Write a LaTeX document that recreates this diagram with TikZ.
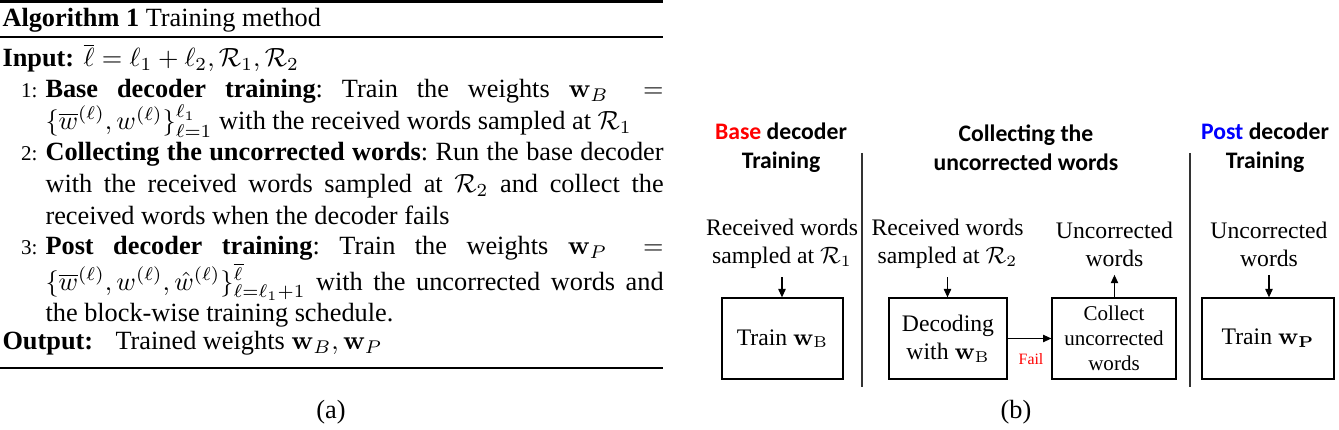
\documentclass[tikz,border=0pt]{standalone}
\usepackage{mathtools}
\usepackage{amssymb}
\usepackage{amsmath}
\usepackage[no-math]{fontspec}
\setmainfont{Liberation Serif}
\newfontfamily\hdfont{Carlito}
\usetikzlibrary{arrows.meta}
\frenchspacing

\begin{document}
\begin{tikzpicture}[x=0.38pt,y=0.38pt,yscale=-1,xscale=1,
	alg/.style={inner sep=0pt,anchor=base west,font=\fontsize{10}{12}\selectfont},
	algpar/.style={alg,text width=234.9pt,align=justify,execute at begin node={\tolerance=9999\emergencystretch=1em\frenchspacing}},
	lno/.style={inner sep=0pt,anchor=base east,font=\fontsize{8}{9.5}\selectfont},
	head/.style={inner sep=0pt,align=center,font=\hdfont\bfseries\fontsize{9}{11}\selectfont},
	lbl/.style={inner xsep=0pt,inner ysep=3pt,align=center,font=\fontsize{9}{10.7}\selectfont},
	blk/.style={draw,line width=0.45pt,inner sep=0pt,align=center,minimum height=30.8pt,font=\fontsize{9}{10.7}\selectfont},
	arr/.style={line width=0.45pt,-{Triangle[length=3.2pt,width=2.8pt]}},
	sep/.style={line width=0.4pt,black!80}]
	\useasboundingbox (0,0) rectangle (1339,430);
	\draw [line width=0.8pt] (0,1.5) -- (663,1.5);
	\draw (2,27) node (cap) [alg] {\textbf{Algorithm 1} Training method};
	\draw [line width=0.4pt] (0,37) -- (663,37);
	\draw (2,67) node (inpL) [alg] {\textbf{Input:}};
	\draw (83,67) node (inpT) [alg] {$\overline{\ell}=\ell_1+\ell_2,\mathcal{R}_1,\mathcal{R}_2$};
	\draw (38,98) node (n1) [lno] {1:};
	\draw (45,98) node (s1) [algpar] {\textbf{Base decoder training}: Train the weights $\mathbf{w}_B =$\linebreak $\{\overline{w}^{(\ell)},w^{(\ell)}\}_{\ell=1}^{\ell_1}$ with the received words sampled at $\mathcal{R}_1$};
	\draw (38,161) node (n2) [lno] {2:};
	\draw (45,161) node (s2) [algpar] {\textbf{Collecting the uncorrected words}: Run the base decoder\linebreak with the received words sampled at $\mathcal{R}_2$ and collect the\linebreak received words when the decoder fails};
	\draw (38,255) node (n3) [lno] {3:};
	\draw (45,255) node (s3) [algpar] {\textbf{Post decoder training}: Train the weights $\mathbf{w}_P =$\linebreak $\{\overline{w}^{(\ell)},w^{(\ell)},\hat{w}^{(\ell)}\}_{\ell=\ell_1+1}^{\overline{\ell}}$ with the uncorrected words and\linebreak the block-wise training schedule.};
	\draw (2,350) node (outL) [alg] {\textbf{Output:}};
	\draw (115,350) node (outT) [alg] {Trained weights $\mathbf{w}_B,\mathbf{w}_P$};
	\draw [line width=0.4pt] (0,368) -- (663,368);
	\draw (331,412) node (capA) [inner sep=0pt,font=\fontsize{10}{12}\selectfont] {(a)};

	\draw (781,147.5) node (hB) [head] {\textcolor{red}{Base} decoder\\Training};
	\draw (1026,147.5) node (hC) [head] {Collecting the\\uncorrected words};
	\draw (1265,147.5) node (hP) [head] {\textcolor{blue}{Post} decoder\\Training};
	\draw [sep] (862,153) -- (862,387);
	\draw [sep] (1190,153) -- (1190,387);
	\draw (782,244) node (inB) [lbl] {Received words\\sampled at $\mathcal{R}_1$};
	\draw (947.5,244) node (inC) [lbl] {Received words\\sampled at $\mathcal{R}_2$};
	\draw (1114.5,244) node (outC) [lbl] {Uncorrected\\words};
	\draw (1269,244) node (inP) [lbl] {Uncorrected\\words};
	\draw (782.5,338.5) node (bB) [blk,minimum width=46pt] {Train $\mathbf{w}_{\mathrm{B}}$};
	\draw (948,338.5) node (bD) [blk,minimum width=44.8pt] {Decoding\\with $\mathbf{w}_{\mathrm{B}}$};
	\draw (1114,338.5) node (bC) [blk,minimum width=47.1pt,font=\fontsize{8}{9.5}\selectfont] {Collect\\uncorrected\\words};
	\draw (1268,338.5) node (bP) [blk,minimum width=50.2pt] {Train $\mathbf{w}_{\mathbf{P}}$};
	\draw [arr] (inB.south) -- (inB.south |- bB.north);
	\draw [arr] (inC.south) -- (inC.south |- bD.north);
	\draw [arr] (outC.south |- bC.north) -- (outC.south);
	\draw [arr] (inP.south) -- (inP.south |- bP.north);
	\draw [arr] (bD) -- (bC);
	\draw (1031,359) node (fail) [inner sep=0pt,text=red,font=\fontsize{6}{7}\selectfont] {Fail};
	\draw (1016,412) node (capB) [inner sep=0pt,font=\fontsize{10}{12}\selectfont] {(b)};
\end{tikzpicture}
\end{document}
